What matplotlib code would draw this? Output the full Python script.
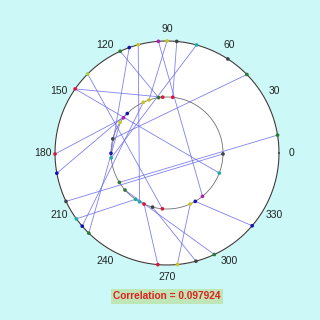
import numpy as np
import matplotlib
matplotlib.use("Agg")
import matplotlib.pyplot as plt

# angles (degrees) of the points on the outer ring and their colours
outer_deg = [9.2, 44.5, 57.1, 74.7, 85, 90, 94.4, 104.9, 109.7, 114.7, 135.1, 145.1,
             180.5, 190.4, 205.6, 216, 220.8, 225.7, 265.3, 275.3, 285, 295, 319.5]
outer_col = ['g', 'g', 'k', 'c', 'k', 'y', 'm', 'y', 'b', 'g', 'yg', 'r',
             'r', 'b', 'k', 'c', 'b', 'g', 'r', 'y', 'k', 'g', 'b']

# angles (degrees) of the points on the inner ring and their colours
inner_deg = [84.2, 94.4, 98.6, 108.7, 115, 135.2, 141, 146.8, 165.4, 180.3, 185,
             211.7, 221.4, 235.8, 240.6, 245.8, 255, 265.3, 294.5, 300.3, 309.3, 339, 359]
inner_col = ['r', 'r', 'g', 'y', 'y', 'b', 'm', 'y', 'k', 'b', 'c',
             'g', 'g', 'c', 'c', 'r', 'k', 'r', 'y', 'b', 'm', 'c', 'k']

# connections: (outer index, inner index)
links = [(0, 11), (1, 8), (3, 10), (4, 0), (5, 3), (6, 20), (11, 1), (11, 21),
         (10, 17), (14, 22), (15, 13), (18, 15), (19, 18), (20, 16), (21, 12),
         (22, 19), (7, 14), (8, 9), (9, 2), (13, 5), (12, 6), (16, 4), (17, 7)]

corr = 0.097924
tick_deg = [0, 30, 60, 90, 120, 150, 180, 210, 240, 270, 300, 330]

palette = {'r': '#d8183a', 'g': '#2f7a34', 'b': '#1414b4', 'c': '#22aaaa',
           'm': '#b01cb0', 'y': '#c8c424', 'yg': '#a8cc48', 'k': '#3c4444'}

R_in = 0.5
bg = '#ccf8f8'

fig = plt.figure(figsize=(3.2, 3.2), dpi=100, facecolor=bg)
ax = fig.add_axes([0, 0, 1, 1])
ax.set_facecolor(bg)
ax.set_xlim(-1.491, 1.366)
ax.set_ylim(-1.491, 1.366)
ax.set_aspect('equal')
ax.axis('off')

t = np.linspace(0, 2 * np.pi, 400)
ax.fill(np.cos(t), np.sin(t), color='white', zorder=1)
ax.plot(np.cos(t), np.sin(t), color='#3a3a3a', lw=0.8, zorder=2)
ax.plot(R_in * np.cos(t), R_in * np.sin(t), color='#707070', lw=0.6, zorder=2)

oa = np.radians(outer_deg)
ia = np.radians(inner_deg)
ox, oy = np.cos(oa), np.sin(oa)
ix, iy = R_in * np.cos(ia), R_in * np.sin(ia)

for o, i in links:
    ax.plot([ox[o], ix[i]], [oy[o], iy[i]], color='#6a6aee', lw=0.6, alpha=0.85, zorder=3)

ax.scatter(ox, oy, s=7, c=[palette[c] for c in outer_col], zorder=4, linewidths=0)
ax.scatter(ix, iy, s=7, c=[palette[c] for c in inner_col], zorder=4, linewidths=0)

for d in tick_deg:
    a = np.radians(d)
    ax.text(1.11 * np.cos(a), 1.11 * np.sin(a), str(d), ha='center', va='center',
            fontsize=7.5, family='Liberation Sans', color='#222222')

ax.text(0, -1.28, 'Correlation = %g' % corr, ha='center', va='center',
        fontsize=7.3, fontweight='bold', family='Liberation Sans', color='#e02020',
        bbox=dict(facecolor='#bfe6b6', edgecolor='none', pad=2))

fig.savefig('out.png', dpi=100, facecolor=bg)
